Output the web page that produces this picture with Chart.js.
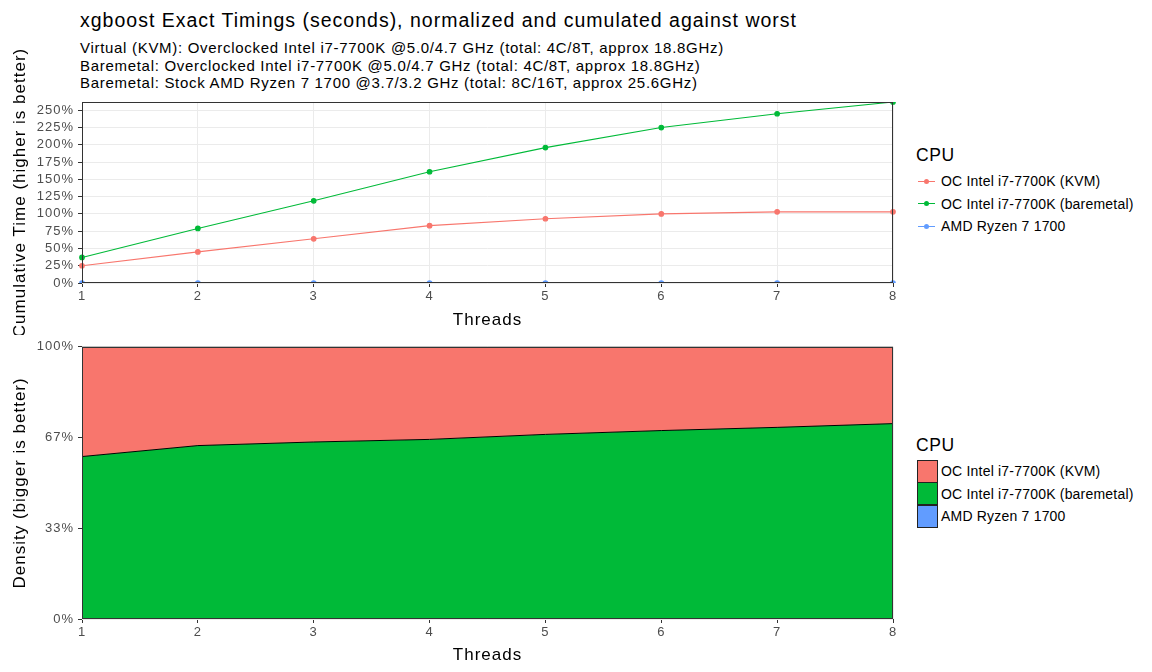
<!DOCTYPE html>
<html>
<head>
<meta charset="utf-8">
<script src="https://cdn.jsdelivr.net/npm/chart.js@4.4.1/dist/chart.umd.min.js"></script>
<style>
	body { margin: 0; background: #fff; font-family: "Liberation Sans", Arial, sans-serif; }
	#page { position: relative; width: 1152px; height: 672px; overflow: hidden; background: #fff; }
	.txt { position: absolute; white-space: nowrap; color: #000; }
	.key { position: absolute; }
	canvas { position: absolute; left: 0; }
</style>
</head>
<body>
<div id="page">
	<div class="txt" style="left:80px;top:9px;font-size:19.5px;line-height:22px;letter-spacing:1px">xgboost Exact Timings (seconds), normalized and cumulated against worst</div>
	<div class="txt" style="left:80px;top:39px;font-size:15px;line-height:17.5px;letter-spacing:0.7px">Virtual (KVM): Overclocked Intel i7-7700K @5.0/4.7 GHz (total: 4C/8T, approx 18.8GHz)<br>Baremetal: Overclocked Intel i7-7700K @5.0/4.7 GHz (total: 4C/8T, approx 18.8GHz)<br>Baremetal: Stock AMD Ryzen 7 1700 @3.7/3.2 GHz (total: 8C/16T, approx 25.6GHz)</div>

	<canvas id="chartTop" width="900" height="335" style="top:0"></canvas>
	<canvas id="chartBottom" width="900" height="337" style="top:335px"></canvas>

	<div id="legendTop"></div>
	<div id="legendBottom"></div>
</div>

<script>
// values, cumulative % of worst
var threads = ['1', '2', '3', '4', '5', '6', '7', '8'];
var seriesNames = ['OC Intel i7-7700K (KVM)', 'OC Intel i7-7700K (baremetal)', 'AMD Ryzen 7 1700'];
var kvmValues = [25, 45, 64, 83, 93, 100, 103, 103];
var baremetalValues = [37, 79, 119, 161, 196, 225, 245, 262];
var ryzenValues = [0, 0, 0, 0, 0, 0, 0, 0];
var densityTicks = [0, 1 / 3, 2 / 3, 1];

var colors = ['#F8766D', '#00BA38', '#619CFF'];
var tickGrey = '#4D4D4D';

// the reference text is a bit wider than plain Arial, spread the glyphs a little
var wideText = {
	id: 'wideText',
	beforeUpdate: function (chart) { chart.ctx.letterSpacing = '1px'; },
	beforeDraw: function (chart) { chart.ctx.letterSpacing = '1px'; }
};

var panelBorder = {
	id: 'panelBorder',
	afterDatasetsDraw: function (chart) {
		var a = chart.chartArea, ctx = chart.ctx;
		ctx.save();
		ctx.strokeStyle = '#333333';
		ctx.lineWidth = 1;
		ctx.strokeRect(Math.round(a.left) + 0.5, Math.round(a.top) + 0.5,
			Math.round(a.right - a.left) - 1, Math.round(a.bottom - a.top) - 1);
		ctx.restore();
	}
};

function xAxis(height, titlePad) {
	return {
		type: 'category',
		offset: false,
		border: { display: false },
		grid: { color: '#EBEBEB', tickColor: '#333333', tickLength: 4, lineWidth: 1 },
		ticks: { color: tickGrey, font: { size: 13, family: 'Liberation Sans' }, padding: 2, maxRotation: 0, autoSkip: false },
		title: { display: true, text: 'Threads', color: '#000', font: { size: 17, family: 'Liberation Sans' }, padding: { top: 0, bottom: titlePad } },
		afterFit: function (s) { s.height = height; }
	};
}

function yAxisBase(titleText) {
	return {
		border: { display: false },
		grid: { color: '#EBEBEB', tickColor: '#333333', tickLength: 4, lineWidth: 1 },
		ticks: { color: tickGrey, font: { size: 13, family: 'Liberation Sans' }, padding: 4, autoSkip: false },
		title: { display: true, text: titleText, color: '#000', font: { size: 17, family: 'Liberation Sans' }, padding: { top: 10, bottom: 0 } },
		afterFit: function (s) { s.width = 82; }
	};
}

// top: cumulative lines
var yTop = yAxisBase('Cumulative Time (higher is better)');
yTop.min = 0;
yTop.max = Math.max.apply(null, baremetalValues.concat(kvmValues));
yTop.ticks.stepSize = 25;
yTop.ticks.includeBounds = false;
yTop.ticks.callback = function (v) { return v + '%'; };

var lineSets = [kvmValues, baremetalValues, ryzenValues].map(function (vals, i) {
	return {
		label: seriesNames[i],
		data: vals,
		borderColor: colors[i],
		backgroundColor: colors[i],
		borderWidth: 1.1,
		pointRadius: 2.3,
		pointHoverRadius: 2.3,
		tension: 0,
		fill: false
	};
});

new Chart(document.getElementById('chartTop'), {
	type: 'line',
	data: { labels: threads, datasets: lineSets },
	options: {
		responsive: false,
		animation: false,
		layout: { padding: { top: 102, right: 7, left: 0, bottom: 0 } },
		plugins: { legend: { display: false }, tooltip: { enabled: false } },
		scales: { x: xAxis(52, 4), y: yTop }
	},
	plugins: [wideText, panelBorder]
});

// bottom: share of the total at each thread count
var share = function (vals) {
	return vals.map(function (v, i) {
		return v / (kvmValues[i] + baremetalValues[i] + ryzenValues[i]);
	});
};

var yBottom = yAxisBase('Density (bigger is better)');
yBottom.min = 0;
yBottom.max = 1;
yBottom.stacked = true;
yBottom.afterBuildTicks = function (s) {
	s.ticks = densityTicks.map(function (v) { return { value: v }; });
};
yBottom.ticks.callback = function (v) { return Math.round(v * 100) + '%'; };

var stackOrder = [[ryzenValues, 2], [baremetalValues, 1], [kvmValues, 0]];
var areaSets = stackOrder.map(function (pair, i) {
	return {
		label: seriesNames[pair[1]],
		data: share(pair[0]),
		borderColor: '#000000',
		borderWidth: 1,
		backgroundColor: colors[pair[1]],
		pointRadius: 0,
		tension: 0,
		fill: i === 0 ? 'origin' : '-1'
	};
});

var xBottom = xAxis(53, 6);
xBottom.stacked = true;

new Chart(document.getElementById('chartBottom'), {
	type: 'line',
	data: { labels: threads, datasets: areaSets },
	options: {
		responsive: false,
		animation: false,
		layout: { padding: { top: 10, right: 7, left: 0, bottom: 0 } },
		plugins: { legend: { display: false }, tooltip: { enabled: false }, filler: { propagate: false } },
		scales: { x: xBottom, y: yBottom }
	},
	plugins: [wideText, panelBorder]
});

// legends drawn as html, ggplot style
var _buildLegend = function (elId, top, boxes) {
	var el = document.getElementById(elId);
	var html = '<div class="txt" style="left:916px;top:' + (top - 11) + 'px;font-size:17.5px;line-height:22px;letter-spacing:0.6px">CPU</div>';
	seriesNames.forEach(function (name, i) {
		var cy = top + 26 + i * 22.7;
		if (boxes) {
			html += '<div class="key" style="left:917px;top:' + (cy - 11.5) + 'px;width:19px;height:21px;background:' + colors[i] + ';border:1px solid #222"></div>';
		} else {
			html += '<div class="key" style="left:918px;top:' + (cy - 0.5) + 'px;width:17px;height:1.2px;background:' + colors[i] + '"></div>';
			html += '<div class="key" style="left:924px;top:' + (cy - 2.5) + 'px;width:5px;height:5px;border-radius:50%;background:' + colors[i] + '"></div>';
		}
		html += '<div class="txt" style="left:941px;top:' + (cy - 9) + 'px;font-size:14px;line-height:18px;letter-spacing:0.2px">' + name + '</div>';
	});
	el.innerHTML = html;
};
_buildLegend('legendTop', 155, false);
_buildLegend('legendBottom', 445, true);
</script>
</body>
</html>
